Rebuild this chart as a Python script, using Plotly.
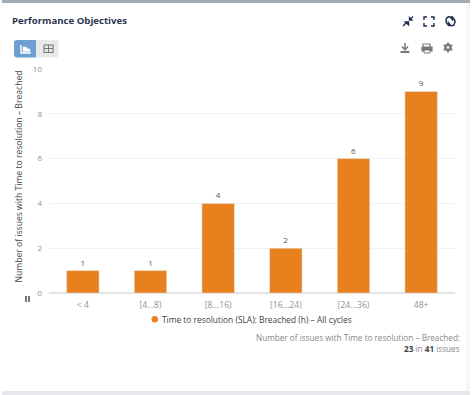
import plotly.graph_objects as go

categories = ["< 4", "[4...8)", "[8...16)", "[16...24)", "[24...36)", "48+"]
breached = [1, 1, 4, 2, 6, 9]
series_name = "Time to resolution (SLA): Breached (h) - All cycles"
y_title = "Number of issues with Time to resolution - Breached"
y_ticks = [0, 2, 4, 6, 8, 10]

W, H = 474, 395
FONT = "Open Sans"
ORANGE = "#e8801e"


def px(x):
    return x / W


def py(y):
    return 1 - y / H


def pt(x, y):
    return f"{px(x):.5f},{py(y):.5f}"


def rect(x0, y0, x1, y1, fill):
    return dict(type="rect", xref="paper", yref="paper", x0=px(x0), x1=px(x1), y0=py(y0), y1=py(y1),
                fillcolor=fill, line=dict(color=fill, width=0), layer="below")


def path(points, color, width=1.3, fill=None):
    d = "M " + " L ".join(pt(a, b) for a, b in points)
    return dict(type="path", xref="paper", yref="paper", path=d, line=dict(color=color, width=width),
                fillcolor=fill or "rgba(0,0,0,0)", layer="above")


def half_round(x0, y0, x1, y1, fill, left=True, r=3):
    if left:
        d = (f"M {pt(x1, y0)} L {pt(x0 + r, y0)} Q {pt(x0, y0)} {pt(x0, y0 + r)} "
             f"L {pt(x0, y1 - r)} Q {pt(x0, y1)} {pt(x0 + r, y1)} L {pt(x1, y1)} Z")
    else:
        d = (f"M {pt(x0, y0)} L {pt(x1 - r, y0)} Q {pt(x1, y0)} {pt(x1, y0 + r)} "
             f"L {pt(x1, y1 - r)} Q {pt(x1, y1)} {pt(x1 - r, y1)} L {pt(x0, y1)} Z")
    return dict(type="path", xref="paper", yref="paper", path=d, fillcolor=fill,
                line=dict(color=fill, width=0), layer="below")


fig = go.Figure(go.Bar(
    x=categories, y=breached, name=series_name, width=0.48,
    marker=dict(color=ORANGE), text=breached, textposition="outside",
    textfont=dict(family=FONT, size=8, color="#555"), cliponaxis=False,
    showlegend=False,
))

shapes = [
    rect(466, 3, 470, 391, "#f7f7f8"),
    rect(2, 391, 470, 395, "#e6e8ec"),
    rect(2, 0, 470, 3, "#a4aab6"),
    half_round(14, 40, 36, 57.5, "#6f9fd0", True),
    half_round(36, 40, 58.5, 57.5, "#e9e9ea", False),
]
NAVY = "#1d2b4f"
GREY = "#77797e"
# chart icon
shapes += [path([(21, 45), (21, 53), (31, 53)], "#fff", 1.4),
           path([(23, 51.5), (23, 47), (26, 47), (28, 49), (30, 49), (30, 51.5), (23, 51.5)], "#fff", 0.5, "#fff")]
# table icon
shapes += [path([(44, 45), (53, 45), (53, 52.5), (44, 52.5), (44, 45)], GREY, 1.1),
           path([(44, 48.5), (53, 48.5)], GREY, 1), path([(48.5, 45), (48.5, 52.5)], GREY, 1)]
# collapse icon
shapes += [path([(403, 26), (407, 22)], NAVY, 1.4),
           path([(403, 21), (409, 21), (409, 26.5), (403, 21)], NAVY, 0.4, NAVY) if False else
           path([(404, 21.5), (409, 21.5), (409, 26), (404, 21.5)], NAVY, 0.4, NAVY)]
shapes += [path([(413, 16.5), (410, 19.5)], NAVY, 1.2),
           path([(409, 16.5), (409, 20.5), (413, 20.5), (409, 16.5)], NAVY, 0.4, NAVY)]
# fullscreen icon
for a, b, c, d, e, f in [(424, 20, 424, 17, 427, 17), (431, 17, 434, 17, 434, 20),
                         (434, 23, 434, 26, 431, 26), (427, 26, 424, 26, 424, 23)]:
    shapes.append(path([(a, b), (c, d), (e, f)], NAVY, 1.4))
# refresh icon
shapes += [path([(449.5, 16.5), (447, 17.5), (446, 20), (446.5, 23), (448.5, 25)], NAVY, 1.5),
           path([(451.5, 26), (454, 25), (455, 22), (454.5, 19.5), (452.5, 17.5)], NAVY, 1.5),
           path([(448, 21.5), (448, 26), (452, 26), (448, 21.5)], NAVY, 0.5, NAVY),
           path([(453, 21), (453, 16.5), (449, 16.5), (453, 21)], NAVY, 0.5, NAVY)]
# download icon
shapes += [path([(405, 43), (405, 49)], GREY, 1.5), path([(402, 46.5), (405, 50), (408, 46.5)], GREY, 1.4),
           path([(400.5, 52), (409.5, 52)], GREY, 2)]
# print icon
shapes += [path([(423, 47), (423, 44), (430, 44), (430, 47)], GREY, 1.2),
           path([(422, 47), (432, 47), (432, 51), (422, 51), (422, 47)], GREY, 1.2, GREY),
           path([(424, 50), (430, 50), (430, 53), (424, 53), (424, 50)], GREY, 1, "#fff")]
# settings icon: teeth, then ring
shapes += [path([(448, 42.5), (448, 52.5)], GREY, 1.8), path([(443.7, 45), (452.3, 50)], GREY, 1.8),
           path([(443.7, 50), (452.3, 45)], GREY, 1.8),
           dict(type="circle", xref="paper", yref="paper", x0=px(445.5), x1=px(450.5), y0=py(50), y1=py(45),
                line=dict(color=GREY, width=2.4), fillcolor="#ffffff", layer="above")]
# drag handle
for xx in (26, 29):
    shapes.append(path([(xx, 296), (xx, 302)], "#555", 1.6))
# legend marker
shapes.append(dict(type="circle", xref="paper", yref="paper", x0=px(151.5), x1=px(158), y0=py(322.5), y1=py(316),
                   fillcolor=ORANGE, line=dict(color=ORANGE, width=0), layer="above"))

annotations = [
    dict(text="<b>Performance Objectives</b>", x=px(12), y=py(21), xanchor="left", yanchor="middle",
         font=dict(family=FONT, size=9.6, color="#2b3450")),
    dict(text=series_name.replace(" - ", " \u2013 "), x=px(162), y=py(319.5), xanchor="left",
         yanchor="middle", font=dict(family=FONT, size=8.4, color="#3c3f46")),
    dict(text=y_title.replace(" - ", " \u2013 "), x=px(19), y=py(176.5), textangle=-90, xanchor="center",
         yanchor="middle", font=dict(family=FONT, size=8.6, color="#45484f")),
    dict(text="Number of issues with Time to resolution \u2013 Breached:", x=px(459.5), y=py(337.5), xanchor="right",
         yanchor="middle", font=dict(family=FONT, size=8.2, color="#85888e")),
    dict(text="<b style='color:#444'>23</b> in <b style='color:#444'>41</b> issues", x=px(460), y=py(348),
         xanchor="right", yanchor="middle", font=dict(family=FONT, size=8.2, color="#85888e")),
]
for a in annotations:
    a.update(xref="paper", yref="paper", showarrow=False, borderpad=0, borderwidth=0)

fig.update_layout(
    width=W, height=H, margin=dict(l=0, r=0, t=0, b=0, pad=0, autoexpand=False), autosize=False,
    paper_bgcolor="#ffffff", plot_bgcolor="rgba(0,0,0,0)",
    bargap=0.52, shapes=shapes, annotations=annotations,
    xaxis=dict(domain=[px(49), px(455)], showgrid=False, showline=False, ticks="", zeroline=False, automargin=False,
               ticklabelstandoff=5,
               tickfont=dict(family=FONT, size=8.6, color="#8f9298"), anchor="y"),
    yaxis=dict(domain=[py(293), py(69)], range=[0, 10], tickvals=y_ticks, gridcolor="#f1f1f1", gridwidth=1,
               zeroline=True, zerolinecolor="#e4e4e4", ticks="", ticklabelstandoff=6, automargin=False,
               tickfont=dict(family=FONT, size=8, color="#8f9298"), anchor="x"),
)
fig.write_html("out.html", post_script="document.body.style.margin='0';document.body.style.overflow='hidden';",
               config=dict(displayModeBar=False))
